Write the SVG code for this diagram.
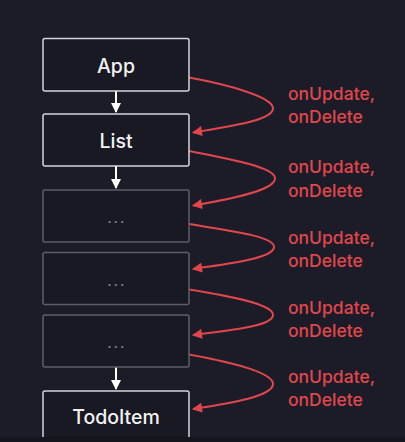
<svg xmlns="http://www.w3.org/2000/svg" width="405" height="442" viewBox="0 0 405 442">
<defs>
<style>
.bg{fill:#1c1c28}
.node{fill:#191924;stroke:#d4d4dc;stroke-width:1.5}
.ghost{fill:#191924;stroke:#5c5e6a;stroke-width:1.5}
.nt{font-family:Inter,"Liberation Sans",sans-serif;font-size:19.5px;font-weight:500;fill:#f2f2f2;text-anchor:middle}
.dots{font-family:Inter,"Liberation Sans",sans-serif;font-size:12px;font-weight:700;fill:#80828e;text-anchor:middle;letter-spacing:2.4px}
.down{stroke:#ffffff;stroke-width:2;fill:none}
.cb{stroke:#e0474c;stroke-width:2;fill:none;marker-end:url(#rh)}
.lbl{font-family:Inter,"Liberation Sans",sans-serif;font-size:17.5px;font-weight:500;fill:#e0474c}
</style>
<marker id="wh" viewBox="0 0 10 10" refX="9" refY="5" markerWidth="5" markerHeight="5" orient="auto" markerUnits="strokeWidth">
<path d="M0,0 L10,5 L0,10 z" fill="#ffffff"/>
</marker>
<marker id="rh" viewBox="0 0 10 10" refX="9" refY="5" markerWidth="5.5" markerHeight="5" orient="auto" markerUnits="strokeWidth">
<path d="M0,0 L10,5 L0,10 z" fill="#e0474c"/>
</marker>
</defs>
<rect class="bg" x="0" y="0" width="405" height="442"/>
<g id="connectors">
<line class="down" x1="116" y1="91" x2="116" y2="112" marker-end="url(#wh)"/>
<line class="down" x1="116" y1="166" x2="116" y2="188" marker-end="url(#wh)"/>
<line class="down" x1="116" y1="367" x2="116" y2="389" marker-end="url(#wh)"/>
<path class="cb" d="M189,77.5 C230,85 272,97 273,108 C274,120 232,126 193,132.5"/>
<path class="cb" d="M189,151 C230,159 274,167 275,178 C276,190 232,199 193,205.5"/>
<path class="cb" d="M189,224 C230,231 273,236 274,246.5 C275,258 232,263 193,269"/>
<path class="cb" d="M189,289.5 C230,296 272,304 273,314.5 C274,326 232,330 193,335"/>
<path class="cb" d="M189,354.5 C230,362 272,372 273,383.5 C274,396 232,403 193,409"/>
</g>
<g id="labels">
<text class="lbl" x="288" y="100">onUpdate,</text>
<text class="lbl" x="288" y="123">onDelete</text>
<text class="lbl" x="288" y="173">onUpdate,</text>
<text class="lbl" x="288" y="196.5">onDelete</text>
<text class="lbl" x="288" y="244">onUpdate,</text>
<text class="lbl" x="288" y="267">onDelete</text>
<text class="lbl" x="288" y="314">onUpdate,</text>
<text class="lbl" x="288" y="336.5">onDelete</text>
<text class="lbl" x="288" y="383">onUpdate,</text>
<text class="lbl" x="288" y="406">onDelete</text>
</g>
<g id="app"><rect class="node" x="43" y="38.5" width="146" height="52.5" rx="2"/><text class="nt" x="116" y="72.5">App</text></g>
<g id="list"><rect class="node" x="43" y="114" width="146" height="52" rx="2"/><text class="nt" x="116" y="147.5">List</text></g>
<g id="ghost1"><rect class="ghost" x="43" y="190" width="146" height="52" rx="2"/><text class="dots" x="117" y="222.5">...</text></g>
<g id="ghost2"><rect class="ghost" x="43" y="252.5" width="146" height="52" rx="2"/><text class="dots" x="117" y="285.5">...</text></g>
<g id="ghost3"><rect class="ghost" x="43" y="315" width="146" height="52" rx="2"/><text class="dots" x="117" y="348">...</text></g>
<g id="todoitem"><rect class="node" x="43" y="391" width="146" height="60" rx="2"/><text class="nt" x="116" y="424">TodoItem</text></g>
<rect x="0" y="437" width="405" height="5" fill="#15151d"/>
</svg>
